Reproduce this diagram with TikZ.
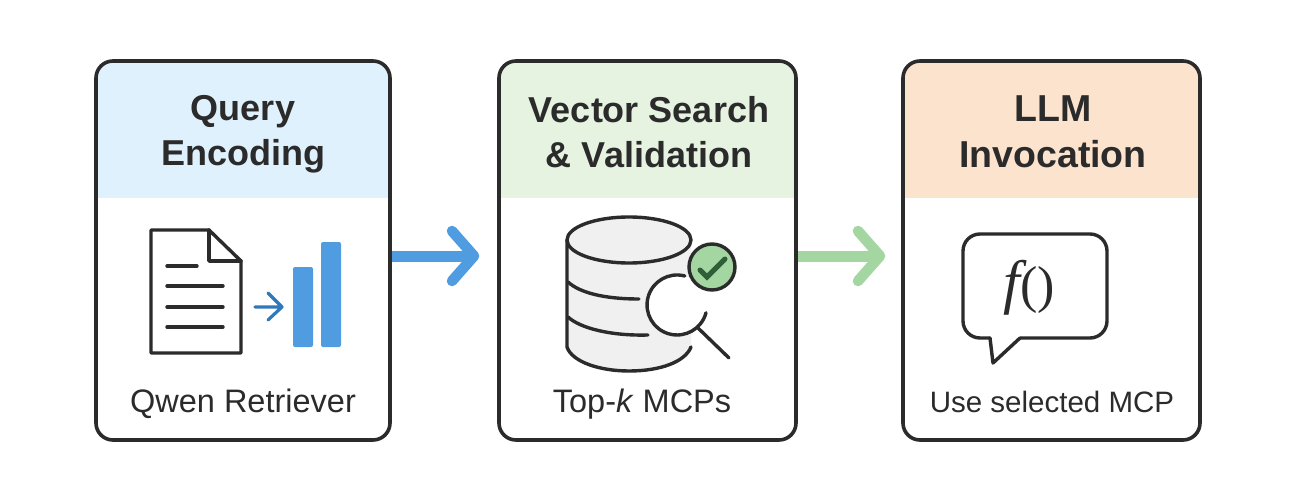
\documentclass[tikz,border=0pt]{standalone}
\usepackage{fontspec}
\setmainfont{Liberation Sans}
\newfontfamily\funcfont{Liberation Serif}
\usepackage{xcolor}
\usetikzlibrary{positioning}
\definecolor{inkdark}{HTML}{2B2B2B}
\definecolor{headblue}{HTML}{DFF1FC}
\definecolor{headgreen}{HTML}{E6F3E1}
\definecolor{headorange}{HTML}{FCE3CD}
\definecolor{arrowblue}{HTML}{4F9DE0}
\definecolor{arrowdeep}{HTML}{2F78BC}
\definecolor{arrowgreen}{HTML}{A3D6A0}
\definecolor{cylgray}{HTML}{F0F0F0}
\definecolor{checkgreen}{HTML}{2F5F38}
\tikzset{
  panel/.style={draw=inkdark,line width=3.6pt,rounded corners=17pt},
  icon/.style={draw=inkdark,line width=3.4pt,line cap=round,line join=round},
  headtext/.style={text=inkdark,font=\fontsize{36}{45.5}\selectfont\bfseries,align=center},
  subtext/.style={text=inkdark,font=\fontsize{32.5}{36}\selectfont},
  flow/.style={line width=11pt,line join=round},
  flowtip/.style={line width=10.5pt,line cap=round,line join=round}
}
\begin{document}
\begin{tikzpicture}[x=1pt,y=-1pt]
\useasboundingbox (0,0) rectangle (1302,484);
\fill[white] (0,0) rectangle (1302,484);
% panels
\def\firstpanel{(96,61) rectangle (390,440)}
\def\secondpanel{(499,61) rectangle (796,440)}
\def\thirdpanel{(903,61) rectangle (1200,440)}
\begin{scope}
  \clip[rounded corners=17pt] \firstpanel;
  \fill[headblue] (96,61) rectangle (390,198);
\end{scope}
\begin{scope}
  \clip[rounded corners=17pt] \secondpanel;
  \fill[headgreen] (499,61) rectangle (796,198);
\end{scope}
\begin{scope}
  \clip[rounded corners=17pt] \thirdpanel;
  \fill[headorange] (903,61) rectangle (1200,198);
\end{scope}
\draw[panel] \firstpanel;
\draw[panel] \secondpanel;
\draw[panel] \thirdpanel;
\coordinate (encodeout) at (392,256);
\coordinate (searchin) at (480,256);
\coordinate (searchout) at (798,256);
\coordinate (invokein) at (886,256);
% titles
\node[headtext] (encodetitle) at (243,134) {Query\\Encoding};
\node[headtext] (searchtitle) at (649,132) {Vector Search\\\& Validation};
\node[headtext,font=\fontsize{37.5}{45.5}\selectfont\bfseries] (invoketitle) at (1053,132) {LLM\\Invocation};
\node[subtext] (encodelabel) at (243,404) {Qwen Retriever};
\node[subtext] (searchlabel) at (642,404) {Top-\textit{k} MCPs};
\node[subtext,font=\fontsize{29.5}{36}\selectfont] (invokelabel) at (1052,402) {Use selected MCP};
% document icon
\draw[icon] (209,230) -- (151,230) -- (151,353) -- (241,353) -- (241,261) -- cycle;
\draw[icon] (209,230) -- (209,261) -- (241,261);
\foreach \y/\xend in {266/197,286/223,307/223,327/223}
  \draw[icon] (167,\y) -- (\xend,\y);
\draw[arrowdeep,line width=3.2pt,line cap=round,line join=round] (255,307) -- (282,307) (268,293) -- (282,307) -- (268,320);
\fill[arrowblue,rounded corners=2pt] (293,267) rectangle (313,347);
\fill[arrowblue,rounded corners=2pt] (321,242) rectangle (341,347);
% database icon
\fill[cylgray] (567,240) -- (567,347) .. controls (572,362) and (600,371) .. (629,371) .. controls (660,371) and (685,362) .. (691,347) -- (691,240) -- cycle;
\draw[icon,fill=cylgray] (629,240) ellipse[x radius=62,y radius=23];
\draw[icon] (567,240) -- (567,347) .. controls (572,362) and (600,371) .. (629,371) .. controls (660,371) and (685,362) .. (691,347);
\draw[icon] (568,282) .. controls (580,293) and (605,299) .. (639,299);
\draw[icon] (568,317) .. controls (580,328) and (610,336) .. (648,335);
\fill[white] (677,305) circle (30);
\draw[icon] (684.8,276) arc[start angle=-75,end angle=-345,radius=30];
\draw[icon] (698,328) -- (729,358);
\draw[icon,fill=arrowgreen] (712,267) circle (23);
\draw[checkgreen,line width=5pt,line cap=round] (700,270) -- (707,277) -- (725,259);
% speech bubble icon
\draw[icon,rounded corners=17pt] (990,338) -- (963,338) -- (963,234) -- (1107,234) -- (1107,338) -- (1020,338);
\draw[icon] (990,338) -- (993,363) -- (1020,338);
\node[text=inkdark,font=\funcfont\fontsize{52}{52}\selectfont] (funccall) at (1029,288) {{\fontsize{60}{60}\selectfont\itshape f}()};
% arrows between panels
\draw[flow,arrowblue] (encodeout) -- ([xshift=-8pt]searchin);
\draw[flowtip,arrowblue] ([xshift=-28pt,yshift=-25pt]searchin) -- ([xshift=-6pt]searchin) -- ([xshift=-28pt,yshift=25pt]searchin);
\draw[flow,arrowgreen] (searchout) -- ([xshift=-8pt]invokein);
\draw[flowtip,arrowgreen] ([xshift=-28pt,yshift=-25pt]invokein) -- ([xshift=-6pt]invokein) -- ([xshift=-28pt,yshift=25pt]invokein);
\end{tikzpicture}
\end{document}
